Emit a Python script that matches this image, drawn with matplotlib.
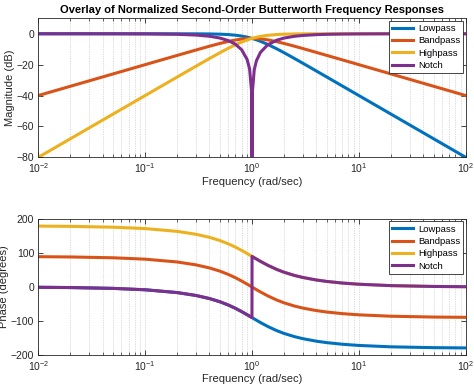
import math
import matplotlib
matplotlib.use("Agg")
import matplotlib.pyplot as plt
from matplotlib.ticker import LogLocator, FixedLocator, FuncFormatter, NullFormatter

plt.rcParams['font.family'] = ['Liberation Sans', 'DejaVu Sans']
plt.rcParams['mathtext.default'] = 'regular'

# ---- data ----
freq = [0.01, 0.02, 0.05, 0.1, 0.2, 0.3, 0.4, 0.5, 0.6, 0.7, 0.8, 0.9, 0.95, 0.99, 0.999,
        1.0, 1.001, 1.01, 1.05, 1.1, 1.2, 1.4, 1.7, 2, 2.5, 3, 4, 5, 7, 10, 20, 50, 100]

mag_lowpass = [0.00, 0.00, 0.00, 0.00, -0.01, -0.04, -0.11, -0.26, -0.53, -0.93, -1.49, -2.19, -2.59, -2.92, -3.00,
               -3.01, -3.02, -3.10, -3.45, -3.92, -4.88, -6.85, -9.71, -12.30, -16.03, -19.14, -24.10, -27.97, -33.81, -40.00, -52.04, -67.96, -80.00]
mag_bandpass = [-40.00, -33.98, -26.02, -20.00, -13.99, -10.49, -8.07, -6.28, -4.97, -4.03, -3.43, -3.11, -3.03, -3.01, -3.01,
                -3.01, -3.01, -3.01, -3.03, -3.09, -3.29, -3.93, -5.10, -6.28, -8.07, -9.60, -12.06, -13.99, -16.90, -20.00, -26.02, -33.98, -40.00]
mag_highpass = [-80.00, -67.96, -52.04, -40.00, -27.97, -20.95, -16.03, -12.30, -9.40, -7.13, -5.37, -4.02, -3.48, -3.10, -3.02,
                -3.01, -3.00, -2.93, -2.61, -2.26, -1.71, -1.00, -0.49, -0.26, -0.11, -0.05, -0.02, -0.01, 0.00, 0.00, 0.00, 0.00, 0.00]
mag_notch = [0.00, 0.00, -0.02, -0.09, -0.36, -0.85, -1.62, -2.76, -4.41, -6.78, -10.36, -16.62, -22.81, -36.95, -56.99,
             -100.0, -56.99, -37.03, -23.24, -17.47, -12.01, -7.20, -4.18, -2.76, -1.62, -1.08, -0.58, -0.36, -0.18, -0.09, -0.02, 0.00, 0.00]

ph_lowpass = [-0.81, -1.62, -4.05, -8.13, -16.42, -24.99, -33.96, -43.31, -52.97, -62.74, -72.35, -81.51, -85.85, -89.19, -89.92,
              -90.00, -90.08, -90.81, -93.95, -97.69, -104.54, -115.87, -128.18, -136.69, -146.04, -152.06, -159.34, -163.58, -168.35, -171.87, -175.95, -178.38, -179.19]
ph_bandpass = [89.19, 88.38, 85.95, 81.87, 73.58, 65.01, 56.04, 46.69, 37.03, 27.26, 17.65, 8.49, 4.15, 0.81, 0.08,
               0.00, -0.08, -0.81, -3.95, -7.69, -14.54, -25.87, -38.18, -46.69, -56.04, -62.06, -69.34, -73.58, -78.35, -81.87, -85.95, -88.38, -89.19]
ph_highpass = [179.19, 178.38, 175.95, 171.87, 163.58, 155.01, 146.04, 136.69, 127.03, 117.26, 107.65, 98.49, 94.15, 90.81, 90.08,
               90.00, 89.92, 89.19, 86.05, 82.31, 75.46, 64.13, 51.82, 43.31, 33.96, 27.94, 20.66, 16.42, 11.65, 8.13, 4.05, 1.62, 0.81]
ph_notch = [-0.81, -1.62, -4.05, -8.13, -16.42, -24.99, -33.96, -43.31, -52.97, -62.74, -72.35, -81.51, -85.85, -89.19, -89.92,
            0.00, 89.92, 89.19, 86.05, 82.31, 75.46, 64.13, 51.82, 43.31, 33.96, 27.94, 20.66, 16.42, 11.65, 8.13, 4.05, 1.62, 0.81]

labels = ['Lowpass', 'Bandpass', 'Highpass', 'Notch']
colors = ['#0072BD', '#D95319', '#EDB120', '#7E2F8E']
mag_series = [mag_lowpass, mag_bandpass, mag_highpass, mag_notch]
ph_series = [ph_lowpass, ph_bandpass, ph_highpass, ph_notch]

title = 'Overlay of Normalized Second-Order Butterworth Frequency Responses'
xlabel = 'Frequency (rad/sec)'
mag_ticks = [-80, -60, -40, -20, 0]
ph_ticks = [-200, -100, 0, 100, 200]

# ---- figure ----
fig = plt.figure(figsize=(4.74, 3.89), dpi=100)
ax1 = fig.add_axes([0.0808, 0.5956, 0.9017, 0.3573])
ax2 = fig.add_axes([0.0808, 0.0874, 0.9017, 0.3496])

axc = '#262626'
fs = 7.5

def style(ax, yticks, ylim, ylabel):
    ax.set_xscale('log')
    ax.set_xlim(0.01, 100)
    ax.set_ylim(*ylim)
    ax.yaxis.set_major_locator(FixedLocator(yticks))
    ax.xaxis.set_major_locator(LogLocator(base=10, numticks=10))
    ax.xaxis.set_minor_locator(LogLocator(base=10, subs=[2, 3, 4, 5, 6, 7, 8, 9], numticks=10))
    ax.xaxis.set_major_formatter(FuncFormatter(lambda v, p: r'$10^{%d}$' % round(math.log10(v))))
    ax.xaxis.set_minor_formatter(NullFormatter())
    ax.tick_params(which='both', direction='in', top=True, right=True, colors=axc, labelsize=fs, pad=3)
    ax.tick_params(which='major', length=3.5, width=0.6)
    ax.tick_params(which='minor', length=2, width=0.5)
    for s in ax.spines.values():
        s.set_color(axc)
        s.set_linewidth(0.6)
    ax.grid(True, which='both', axis='x', linestyle=(0, (1, 1.5)), color='#bdbdbd', linewidth=0.5)
    ax.set_xlabel(xlabel, fontsize=fs + 0.5, color=axc, labelpad=1)
    ax.set_ylabel(ylabel, fontsize=fs + 0.5, color=axc, labelpad=1)

for vals, c, lab in zip(mag_series, colors, labels):
    ax1.plot(freq, vals, color=c, linewidth=2.2, label=lab, solid_joinstyle='round')
for vals, c, lab in zip(ph_series, colors, labels):
    ax2.plot(freq, vals, color=c, linewidth=2.2, label=lab, solid_joinstyle='round')

style(ax1, mag_ticks, (-80, 10), 'Magnitude (dB)')
style(ax2, ph_ticks, (-200, 200), 'Phase (degrees)')
ax1.set_title(title, fontsize=fs + 0.5, fontweight='bold', color='black', pad=4)

for ax in (ax1, ax2):
    leg = ax.legend(loc='upper right', fontsize=fs - 0.7, handlelength=2.2, handletextpad=0.5,
                    borderpad=0.35, labelspacing=0.35, borderaxespad=0.25, fancybox=False,
                    framealpha=1, edgecolor=axc)
    leg.get_frame().set_linewidth(0.6)

fig.savefig('out.png', dpi=100)
